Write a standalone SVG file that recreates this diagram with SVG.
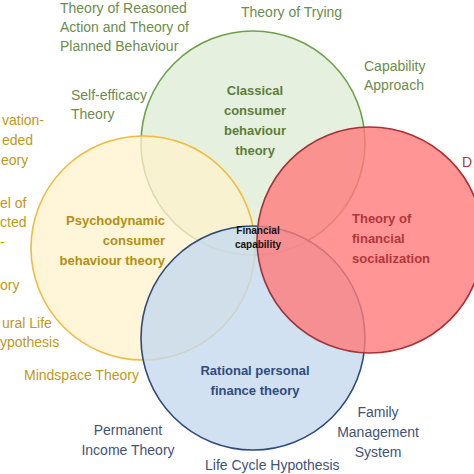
<svg xmlns="http://www.w3.org/2000/svg" width="474" height="474" viewBox="0 0 474 474">
<style>
.lbl{font-family:"Liberation Sans",Arial,sans-serif;font-size:14px}
.bold{font-family:"Liberation Sans",Arial,sans-serif;font-size:13px;font-weight:bold}
.g{fill:#6c8c4c}.y{fill:#bf981c}.b{fill:#3f5474}.r{fill:#a8383c}
.gb{fill:#5c7d3a}.yb{fill:#b38e12}.rb{fill:#b3363b}.bb{fill:#2f4c7e}
</style>
<rect width="474" height="474" fill="#ffffff"/>
<g id="connectors"></g>
<g id="node-classical">
<circle cx="253" cy="143" r="112" fill="#e2efda" fill-opacity="0.9" stroke="#6fa04a" stroke-width="1.6"/>
</g>
<g id="node-psychodynamic">
<circle cx="143" cy="248" r="112" fill="#fff2cc" fill-opacity="0.75" stroke="#efb52a" stroke-width="1.6" stroke-opacity="0.9"/>
</g>
<g id="node-rational">
<circle cx="253" cy="338" r="112" fill="#c5d9ee" fill-opacity="0.8" stroke="#2d4a7e" stroke-width="1.6"/>
</g>
<g id="node-socialization">
<circle cx="370" cy="240" r="113" fill="#ff7a7a" fill-opacity="0.8" stroke="#a83236" stroke-width="1.6"/>
</g>
<g id="labels-center">
<text class="bold gb" text-anchor="middle"><tspan x="255" y="95">Classical</tspan><tspan x="255" y="115">consumer</tspan><tspan x="255" y="135">behaviour</tspan><tspan x="255" y="155">theory</tspan></text>
<text class="bold yb" text-anchor="end"><tspan x="165" y="225">Psychodynamic</tspan><tspan x="165" y="245">consumer</tspan><tspan x="165" y="265">behaviour theory</tspan></text>
<text class="bold rb"><tspan x="352" y="223">Theory of</tspan><tspan x="352" y="243">financial</tspan><tspan x="352" y="263">socialization</tspan></text>
<text class="bold bb" text-anchor="middle"><tspan x="255" y="375">Rational personal</tspan><tspan x="255" y="395">finance theory</tspan></text>
<text font-family="Liberation Sans,Arial,sans-serif" font-size="10" font-weight="bold" fill="#111111" text-anchor="middle"><tspan x="258" y="234">Financial</tspan><tspan x="258" y="248">capability</tspan></text>
</g>
<g id="labels-outer">
<text class="lbl g"><tspan x="60" y="13">Theory of Reasoned</tspan><tspan x="60" y="32">Action and Theory of</tspan><tspan x="60" y="51">Planned Behaviour</tspan></text>
<text class="lbl g" x="241" y="17">Theory of Trying</text>
<text class="lbl g"><tspan x="364" y="71">Capability</tspan><tspan x="364" y="90">Approach</tspan></text>
<text class="lbl g"><tspan x="71" y="100">Self-efficacy</tspan><tspan x="71" y="119">Theory</tspan></text>
<text class="lbl y"><tspan x="2" y="125">vation-</tspan><tspan x="2" y="145">eded</tspan><tspan x="1" y="165">eory</tspan></text>
<text class="lbl y"><tspan x="0" y="208">el of</tspan><tspan x="0" y="227">cted</tspan><tspan x="0" y="247">-</tspan><tspan x="0" y="290">ory</tspan></text>
<text class="lbl y"><tspan x="2" y="328">ural Life</tspan><tspan x="0" y="347">ypothesis</tspan></text>
<text class="lbl y" x="24" y="380">Mindspace Theory</text>
<text class="lbl b" text-anchor="middle"><tspan x="128" y="435">Permanent</tspan><tspan x="128" y="455">Income Theory</tspan></text>
<text class="lbl b" x="205" y="470">Life Cycle Hypothesis</text>
<text class="lbl b" text-anchor="middle"><tspan x="378" y="417">Family</tspan><tspan x="378" y="437">Management</tspan><tspan x="378" y="457">System</tspan></text>
<text class="lbl r" x="462" y="167">D</text>
</g>
</svg>
